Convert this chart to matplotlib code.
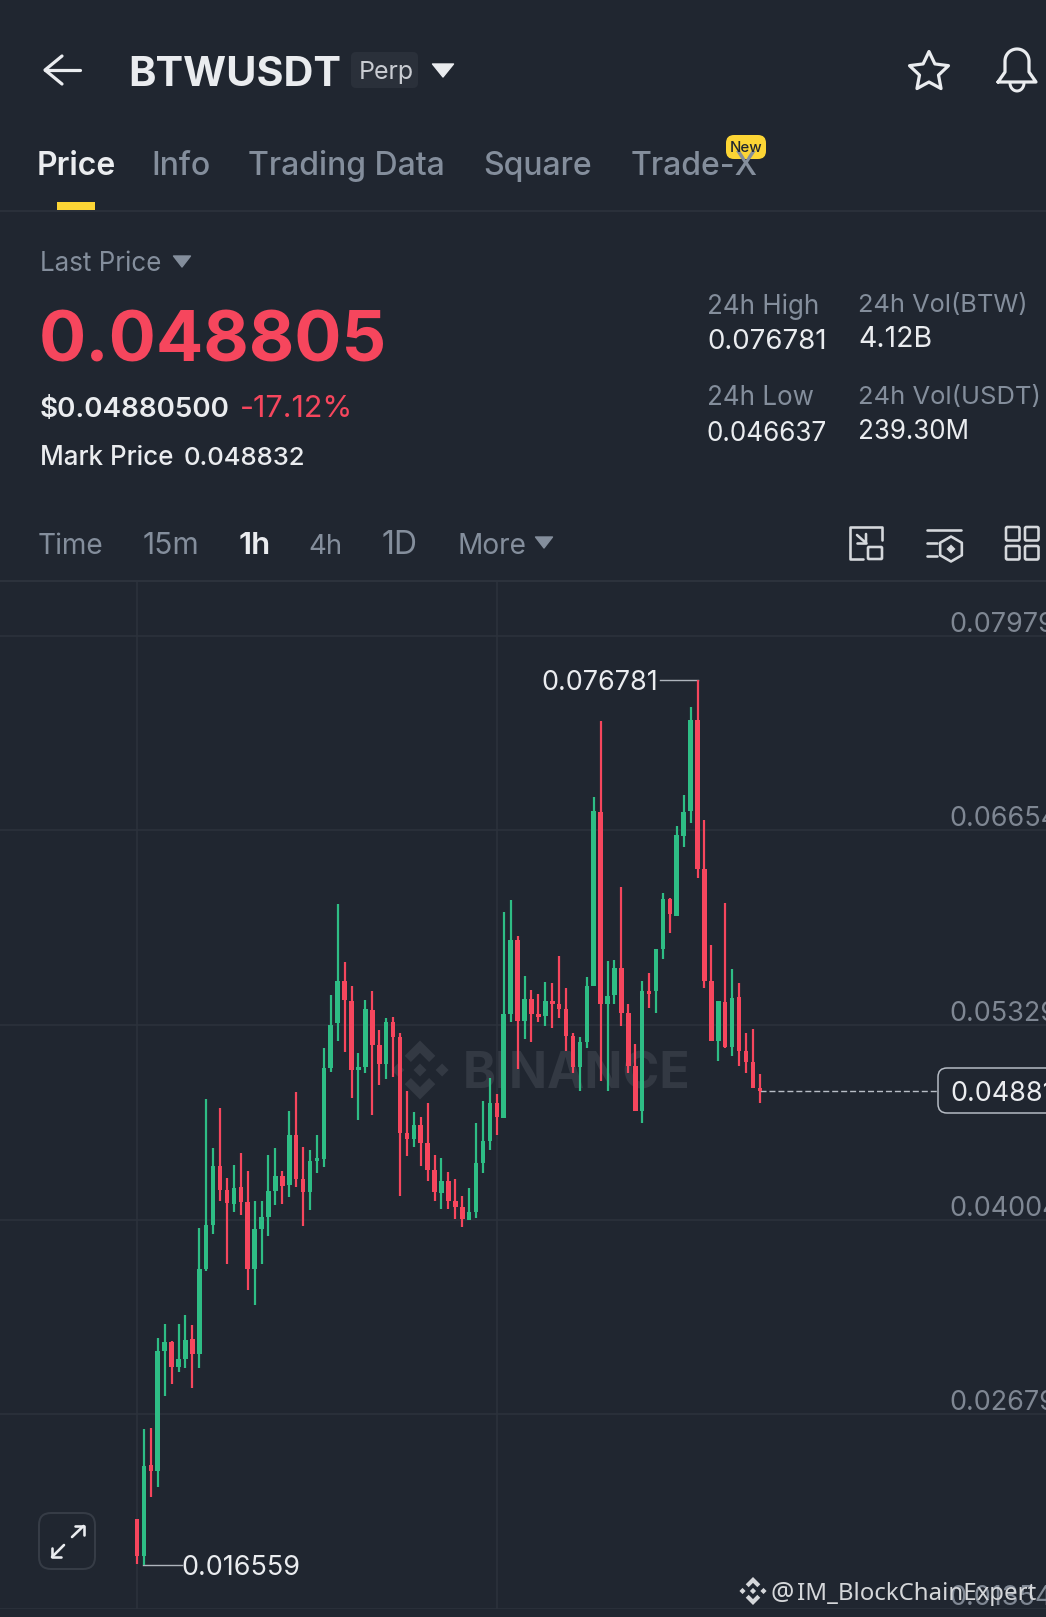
import numpy as np
import matplotlib
matplotlib.use('Agg')
import matplotlib.pyplot as plt
from matplotlib.patches import FancyBboxPatch, Polygon
from matplotlib.ticker import FormatStrFormatter
from matplotlib.transforms import ScaledTranslation

# candles
opens = [0.01965, 0.01718, 0.02335, 0.02296, 0.03108, 0.03168, 0.02999, 0.03056, 0.03192, 0.03088,
         0.03666, 0.03968, 0.04369, 0.04205, 0.04111, 0.04223, 0.04124, 0.03671, 0.03941, 0.04025,
         0.04199, 0.04299, 0.04239, 0.04582, 0.04280, 0.04192, 0.04403, 0.04419, 0.05038, 0.05341,
         0.05630, 0.05494, 0.05023, 0.05041, 0.05431, 0.05193, 0.05064, 0.05349, 0.05245, 0.04592,
         0.04555, 0.04646, 0.04524, 0.04340, 0.04188, 0.04267, 0.04133, 0.04088, 0.04004, 0.04058,
         0.04392, 0.04542, 0.04798, 0.04696, 0.05404, 0.05905, 0.05358, 0.05504, 0.05404, 0.05390,
         0.05494, 0.05470, 0.05438, 0.05254, 0.05041, 0.05215, 0.05596, 0.06781, 0.05474, 0.05535,
         0.05715, 0.05409, 0.05050, 0.04746, 0.05560, 0.05558, 0.05844, 0.06186, 0.06073, 0.06617,
         0.06785, 0.07407, 0.06389, 0.05630, 0.05222, 0.05488, 0.05181, 0.05518, 0.05154, 0.05079,
         0.04902]
closes = [0.01718, 0.02327, 0.02296, 0.03111, 0.03168, 0.02999, 0.03056, 0.03187, 0.03090, 0.03671,
          0.03968, 0.04369, 0.04205, 0.04114, 0.04220, 0.04127, 0.03671, 0.03937, 0.04022, 0.04197,
          0.04299, 0.04236, 0.04582, 0.04280, 0.04192, 0.04400, 0.04421, 0.05038, 0.05331, 0.05630,
          0.05499, 0.05023, 0.05041, 0.05436, 0.05193, 0.05064, 0.05352, 0.05245, 0.04592, 0.04555,
          0.04646, 0.04524, 0.04342, 0.04193, 0.04267, 0.04133, 0.04088, 0.04007, 0.04058, 0.04392,
          0.04542, 0.04798, 0.04701, 0.05404, 0.05905, 0.05358, 0.05504, 0.05404, 0.05381, 0.05494,
          0.05474, 0.05438, 0.05254, 0.05041, 0.05215, 0.05596, 0.06785, 0.05474, 0.05528, 0.05715,
          0.05413, 0.05050, 0.04746, 0.05560, 0.05540, 0.05844, 0.06186, 0.06084, 0.06622, 0.06781,
          0.07407, 0.06389, 0.05630, 0.05222, 0.05490, 0.05177, 0.05513, 0.05154, 0.05079, 0.04902,
          0.04881]
highs = [0.01965, 0.02577, 0.02587, 0.03200, 0.03296, 0.03181, 0.03296, 0.03358, 0.03285, 0.03947,
         0.04827, 0.04489, 0.04765, 0.04286, 0.04374, 0.04457, 0.04338, 0.04129, 0.04129, 0.04442,
         0.04494, 0.04335, 0.04746, 0.04874, 0.04497, 0.04481, 0.04577, 0.05172, 0.05533, 0.06150,
         0.05760, 0.05596, 0.05136, 0.05497, 0.05557, 0.05297, 0.05375, 0.05381, 0.05277, 0.04882,
         0.04739, 0.04705, 0.04796, 0.04442, 0.04424, 0.04329, 0.04279, 0.04165, 0.04222, 0.04660,
         0.04814, 0.04966, 0.04859, 0.06100, 0.06178, 0.05935, 0.05665, 0.05565, 0.05538, 0.05624,
         0.05613, 0.05796, 0.05583, 0.05277, 0.05247, 0.05656, 0.06883, 0.07400, 0.05767, 0.05771,
         0.06270, 0.05472, 0.05198, 0.05630, 0.05685, 0.05848, 0.06225, 0.06191, 0.06685, 0.06892,
         0.07493, 0.076781, 0.06726, 0.05873, 0.05494, 0.06161, 0.05708, 0.05617, 0.05277, 0.05304,
         0.04996]
lows = [0.01663, 0.016559, 0.02119, 0.02184, 0.02801, 0.02887, 0.02965, 0.02991, 0.02859, 0.02991,
        0.03655, 0.03908, 0.04132, 0.03700, 0.04059, 0.04035, 0.03528, 0.03421, 0.03705, 0.03890,
        0.04103, 0.04111, 0.04155, 0.04228, 0.03963, 0.04072, 0.04319, 0.04363, 0.05009, 0.05222,
        0.05143, 0.04832, 0.04680, 0.05004, 0.04714, 0.04919, 0.04962, 0.04977, 0.04167, 0.04435,
        0.04497, 0.04369, 0.04267, 0.04131, 0.04079, 0.04079, 0.04009, 0.03956, 0.04004, 0.04018,
        0.04324, 0.04476, 0.04580, 0.04694, 0.05352, 0.05028, 0.05232, 0.05215, 0.05352, 0.05324,
        0.05311, 0.05375, 0.05152, 0.05000, 0.04882, 0.05175, 0.05594, 0.04950, 0.04880, 0.05472,
        0.05324, 0.05000, 0.04744, 0.04664, 0.05443, 0.05413, 0.05780, 0.05957, 0.06071, 0.06542,
        0.06706, 0.06329, 0.05583, 0.05220, 0.05082, 0.05170, 0.05120, 0.05052, 0.05000, 0.04900,
        0.04796]
price_ticks = [0.01354, 0.02679, 0.04004, 0.05329, 0.06654, 0.07979]
time_ticks = [0, 52]
last_price = 0.04881
tabs = ['Price', 'Info', 'Trading Data', 'Square', 'Trade-X']
periods = ['Time', '15m', '1h', '4h', '1D', 'More']

W, H = 1046, 1617
BG = '#202630'
GRID = '#2c323c'
GREY = '#848e9c'
WHITE = '#eaecef'
GREEN = '#2ebd85'
RED = '#f6465d'
YELLOW = '#fcd535'
FONT = 'Inter'
PT = 0.72  # px to points at dpi 100

plt.rcParams['font.family'] = [FONT, 'DejaVu Sans']

fig = plt.figure(figsize=(W / 100, H / 100), dpi=100, facecolor=BG)

# ---- app chrome, in screen pixels
ui = fig.add_axes([0, 0, 1, 1], zorder=0)
ui.set_xlim(0, W)
ui.set_ylim(H, 0)
ui.axis('off')


def txt(x, y, s, px, color=GREY, weight='normal', ha='left', family=None):
    # y is the baseline
    ui.text(x, y, s, fontsize=px * PT, color=color, fontweight=weight, ha=ha, va='baseline',
            family=family or [FONT, 'DejaVu Sans'])


def line(xs, ys, color=WHITE, px=3.0):
    ui.plot(xs, ys, color=color, lw=px * PT, solid_capstyle='round', solid_joinstyle='round')


def tri(cx, top, w, h, color):
    ui.add_patch(Polygon([(cx - w / 2, top), (cx + w / 2, top), (cx, top + h)], closed=True, fc=color, ec=color,
                         lw=1, joinstyle='round'))


def rbox(x, y, w, h, r, fc='none', ec='none', px=1.5):
    ui.add_patch(FancyBboxPatch((x + r, y + r), w - 2 * r, h - 2 * r, boxstyle='round,pad=%f,rounding_size=%f' % (r, r),
                                fc=fc, ec=ec, lw=px * PT))


def logo(cx, cy, r, color):
    # the diamond mark
    for dx in [-0.75, 0, 0.75]:
        d = 0.22
        ui.add_patch(Polygon([(cx + (dx - d) * r, cy), (cx + dx * r, cy - d * r), (cx + (dx + d) * r, cy),
                              (cx + dx * r, cy + d * r)], fc=color, ec='none'))
    chevron = np.array([(0, 1.0), (0.52, 0.48), (0.31, 0.27), (0, 0.58), (-0.31, 0.27), (-0.52, 0.48)])
    for sign in [1, -1]:
        pts = np.column_stack([cx + chevron[:, 0] * r, cy - sign * chevron[:, 1] * r])
        ui.add_patch(Polygon(pts, fc=color, ec='none'))


# top bar
line([80, 45], [70, 70], px=3.2)
line([62, 45, 62], [56, 70, 84], px=3.2)
txt(128, 86, 'BTWUSDT', 41.4, WHITE, 'bold')
rbox(351, 52, 67, 36, 5, fc='#2a303a')
txt(359, 79, 'Perp', 25, '#c9ccd2')
tri(443, 64, 21, 13, WHITE)

ang = np.pi / 2 + np.arange(10) * np.pi / 5
rad = np.where(np.arange(10) % 2 == 0, 20.5, 10)
ui.add_patch(Polygon(np.column_stack([929 + rad * np.cos(ang), 72 - rad * np.sin(ang)]), fc='none', ec=WHITE,
                     lw=3.2 * PT, joinstyle='round'))
t = np.linspace(np.pi, 0, 30)
bx = np.r_[998, 1005, 1005 + 12 * (1 + np.cos(t)), 1029, 1036, 998]
by = np.r_[82, 72, 61 - 12 * np.sin(t), 72, 82, 82]
line(bx, by, px=3.2)
t = np.linspace(0, np.pi, 20)
line(1017 + 7 * np.cos(t), 83 + 8 * np.sin(t), px=3.0)

# tabs
for name, x in zip(tabs, [37, 151, 248, 483, 631]):
    if name == 'Price':
        txt(x, 175, name, 32, WHITE, 'semibold')
    else:
        txt(x, 175, name, 32, GREY, 'medium')
rbox(726, 135, 40, 24, 8, fc=YELLOW)
txt(746, 152, 'New', 15, '#202630', 'medium', ha='center')
ui.plot([0, W], [211, 211], color=GRID, lw=1.8 * PT)
ui.add_patch(plt.Rectangle((57, 202), 38, 8, fc=YELLOW, ec='none'))

# price block
txt(40, 271, 'Last Price', 26)
tri(182, 256, 17, 11, GREY)
txt(39, 361, '0.048805', 70, RED, 'bold')
txt(40, 417, '$0.04880500', 27.8, WHITE, 'semibold')
txt(240, 417, '-17.12%', 30.5, RED)
txt(40, 465, 'Mark Price', 26, WHITE, 'medium')
txt(184, 465, '0.048832', 25.7, WHITE, 'medium')

txt(707, 314, '24h High', 26)
txt(707, 349, '0.076781', 27.6, WHITE)
txt(858, 312, '24h Vol(BTW)', 25.4)
txt(858, 347, '4.12B', 28.6, WHITE)
txt(707, 405, '24h Low', 26)
txt(707, 441, '0.046637', 26.2, WHITE)
txt(858, 404, '24h Vol(USDT)', 25.6)
txt(858, 439, '239.30M', 26, WHITE)

# period row
period_x = [38, 143, 239, 308, 382, 457]
period_px = [28, 30, 31, 27.5, 32, 28]
for name, x, px in zip(periods, period_x, period_px):
    if name == '1h':
        txt(x, 554, name, px, WHITE, 'semibold')
    else:
        txt(x, 554, name, px, GREY)
tri(544, 537, 17, 11, GREY)

line([882, 882, 850, 850, 863], [540, 527, 527, 559, 559], '#d5d8dc', 2.6)
line([857, 866, 866], [535, 543, 534], '#d5d8dc', 2.6)
line([857, 866], [543, 543], '#d5d8dc', 2.6)
rbox(868, 547, 14, 12, 1, ec='#d5d8dc', px=2.6)

line([927, 961], [530, 530], '#d5d8dc', 2.6)
line([927, 937], [543, 543], '#d5d8dc', 2.6)
line([927, 937], [556, 556], '#d5d8dc', 2.6)
ang = np.pi / 2 + np.arange(6) * np.pi / 3
ui.add_patch(Polygon(np.column_stack([951 + 12.5 * np.cos(ang), 549 - 12.5 * np.sin(ang)]), fc='none', ec='#d5d8dc',
                     lw=2.6 * PT, joinstyle='round'))
ui.add_patch(Polygon([(946.5, 549), (951, 544.5), (955.5, 549), (951, 553.5)], fc='#d5d8dc', ec='none'))

for x in [1006, 1025]:
    for y in [527, 546]:
        rbox(x, y, 13.5, 13.5, 1.5, ec='#d5d8dc', px=2.6)

ui.plot([0, W], [581, 581], color=GRID, lw=2 * PT)

# watermark, under the candles
logo(420, 1070, 29.5, '#333943')
txt(463, 1088, 'BINANCE', 50, '#333943', 'bold')

# expand button
rbox(39, 1513, 56, 56, 12, ec='#363c46', px=2)
line([72, 83.5], [1537, 1526], px=2.6)
line([75, 83.5, 83.5], [1526, 1526, 1535], px=2.6)
line([64, 52], [1545, 1557], px=2.6)
line([52, 52, 61], [1548, 1557, 1557], px=2.6)

# last price flag
rbox(938, 1068, 130, 45, 9, fc=BG, ec='#b7bdc6', px=1.5)

# post watermark
logo(753, 1591, 14, '#d5d7da')

# ---- the chart, real axes on price and candle index
top, bottom = 582, 1609
ax = fig.add_axes([0, (H - bottom) / H, 1, (bottom - top) / H], zorder=1)
ax.patch.set_alpha(0)
step = 6.92
x0 = 137
ax.set_xlim(-x0 / step, (W - x0) / step)
ax.set_ylim(price_ticks[0], price_ticks[0] + (bottom - top) / 194.7 * 0.01325)
for s in ax.spines.values():
    s.set_visible(False)

ax.set_xticks(time_ticks)
ax.set_xticklabels([])
ax.set_yticks(price_ticks)
ax.yaxis.set_major_formatter(FormatStrFormatter('%.5f'))
ax.yaxis.tick_right()
ax.tick_params(axis='x', length=0)
ax.tick_params(axis='y', length=0, pad=-(W - 949) * PT, labelsize=27 * PT, labelcolor='#7f8793')
nudge = ScaledTranslation(0, -2 / 100, fig.dpi_scale_trans)
for tick in ax.yaxis.get_major_ticks():
    tick.label2.set_va('bottom')
    tick.label2.set_transform(tick.label2.get_transform() + nudge)
ax.grid(True, color=GRID, lw=1.6 * PT)
ax.set_axisbelow(True)

idx = np.arange(len(opens))
o = np.array(opens)
c = np.array(closes)
colors = [GREEN if b >= a else RED for a, b in zip(opens, closes)]
ax.vlines(idx, lows, highs, colors=colors, lw=2.2 * PT, zorder=3)
ax.bar(idx, np.abs(c - o), bottom=np.minimum(o, c), width=4.6 / step, color=colors, zorder=3)

# high and low call-outs
i_hi = int(np.argmax(highs))
i_lo = int(np.argmin(lows))
ax.plot([i_hi - 37.5 / step, i_hi], [highs[i_hi], highs[i_hi]], color='#aeb4bc', lw=1.4 * PT, zorder=2)
ax.plot([i_lo - 1 / step, i_lo + 38 / step], [lows[i_lo], lows[i_lo]], color='#aeb4bc', lw=1.4 * PT, zorder=2)
ax.annotate('%.6f' % highs[i_hi], (i_hi, highs[i_hi]), xytext=(-39.5, 0), textcoords='offset pixels', ha='right',
            va='center_baseline', fontsize=27 * PT, color=WHITE)
ax.annotate('%.6f' % lows[i_lo], (i_lo, lows[i_lo]), xytext=(37, 0), textcoords='offset pixels', ha='left',
            va='center_baseline', fontsize=27 * PT, color=WHITE)

# last price line and label
ax.plot([idx[-1], (938 - x0) / step], [last_price, last_price], color='#b7bdc6', lw=1.4 * PT, dashes=(4.3, 2.1),
        zorder=2)
ax.text(950 / W, last_price, '%.5f' % last_price, transform=ax.get_yaxis_transform(), ha='left',
        va='center_baseline', fontsize=27 * PT, color=WHITE, clip_on=False)

# post watermark text sits over the axis label
fig.text(771 / W, 1 - 1600 / H, '@', fontsize=26 * PT, color='#d5d7da', family='Noto Sans', zorder=5)
fig.text(797 / W, 1 - 1600 / H, 'IM_BlockChainExpert', fontsize=24 * PT, color='#d5d7da', family='Noto Sans', zorder=5)

fig.savefig('out.png', dpi=100, facecolor=BG)
